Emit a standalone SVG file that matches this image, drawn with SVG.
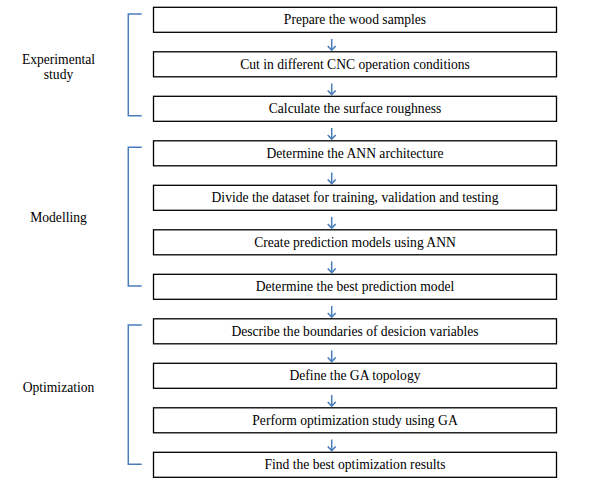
<svg xmlns="http://www.w3.org/2000/svg" width="595" height="493" viewBox="0 0 595 493">
<style>
.box{fill:#fff;stroke:#000;stroke-width:1.3}
.t{font-family:'Liberation Serif','DejaVu Serif',serif;font-size:13.6px;fill:#000;text-anchor:middle}
.br{fill:none;stroke:#4a7ebb;stroke-width:1.5}
.ar{fill:none;stroke:#4a7ebb;stroke-width:1.5}
</style>
<defs>
<marker id="ah" markerWidth="10" markerHeight="10" refX="5" refY="5" orient="auto" markerUnits="userSpaceOnUse">
<path d="M1,1 L5,5 L1,9" fill="none" stroke="#4a7ebb" stroke-width="1.6"/>
</marker>
</defs>
<rect width="595" height="493" fill="#fff"/>
<g id="groups" font-family="Liberation Serif, DejaVu Serif, serif">
<g id="g-exp"><path class="br" d="M141.7,14 H128.3 V115.7 H141.7"/><text class="t" x="58.5" y="63.5">Experimental</text><text class="t" x="58.5" y="79">study</text></g>
<g id="g-mod"><path class="br" d="M141.7,147.3 H128.3 V286 H141.7"/><text class="t" x="58.5" y="221.5">Modelling</text></g>
<g id="g-opt"><path class="br" d="M141.7,325 H128.3 V464.3 H141.7"/><text class="t" x="58.5" y="392.3">Optimization</text></g>
</g>
<g id="connectors">
<path class="ar" d="M331.7,39 V50" marker-end="url(#ah)"/>
<path class="ar" d="M331.7,83.5 V94.5" marker-end="url(#ah)"/>
<path class="ar" d="M331.7,128 V139" marker-end="url(#ah)"/>
<path class="ar" d="M331.7,172.5 V183.5" marker-end="url(#ah)"/>
<path class="ar" d="M331.7,217 V228" marker-end="url(#ah)"/>
<path class="ar" d="M331.7,261.5 V272.5" marker-end="url(#ah)"/>
<path class="ar" d="M331.7,306 V317" marker-end="url(#ah)"/>
<path class="ar" d="M331.7,350.5 V361.5" marker-end="url(#ah)"/>
<path class="ar" d="M331.7,395 V406" marker-end="url(#ah)"/>
<path class="ar" d="M331.7,439.5 V450.5" marker-end="url(#ah)"/>
</g>
<g id="n1"><rect class="box" x="153.5" y="7.3" width="403" height="25"/><text class="t" x="355" y="24.3">Prepare the wood samples</text></g>
<g id="n2"><rect class="box" x="153.5" y="51.8" width="403" height="25"/><text class="t" x="355" y="68.8">Cut in different CNC operation conditions</text></g>
<g id="n3"><rect class="box" x="153.5" y="96.3" width="403" height="25"/><text class="t" x="355" y="113.3">Calculate the surface roughness</text></g>
<g id="n4"><rect class="box" x="153.5" y="140.8" width="403" height="25"/><text class="t" x="355" y="157.8">Determine the ANN architecture</text></g>
<g id="n5"><rect class="box" x="153.5" y="185.3" width="403" height="25"/><text class="t" x="355" y="202.3">Divide the dataset for training, validation and testing</text></g>
<g id="n6"><rect class="box" x="153.5" y="229.8" width="403" height="25"/><text class="t" x="355" y="246.8">Create prediction models using ANN</text></g>
<g id="n7"><rect class="box" x="153.5" y="274.3" width="403" height="25"/><text class="t" x="355" y="291.3">Determine the best prediction model</text></g>
<g id="n8"><rect class="box" x="153.5" y="318.8" width="403" height="25"/><text class="t" x="355" y="335.8">Describe the boundaries of desicion variables</text></g>
<g id="n9"><rect class="box" x="153.5" y="363.3" width="403" height="25"/><text class="t" x="355" y="380.3">Define the GA topology</text></g>
<g id="n10"><rect class="box" x="153.5" y="407.8" width="403" height="25"/><text class="t" x="355" y="424.8">Perform optimization study using GA</text></g>
<g id="n11"><rect class="box" x="153.5" y="452.3" width="403" height="25"/><text class="t" x="355" y="469.3">Find the best optimization results</text></g>
</svg>
